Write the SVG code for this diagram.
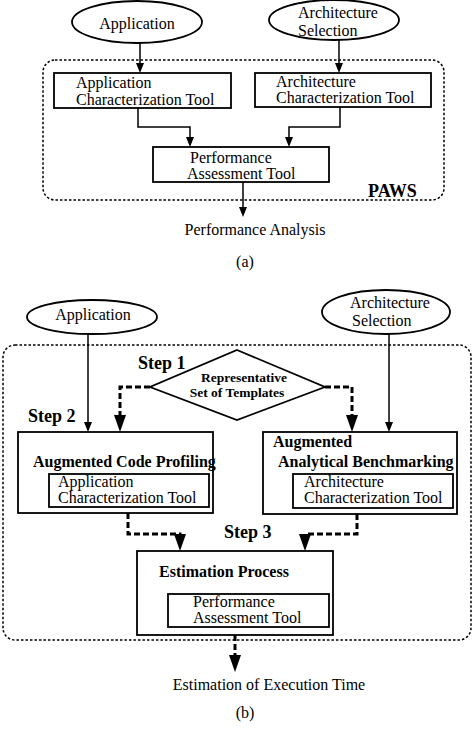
<svg xmlns="http://www.w3.org/2000/svg" width="474" height="731" viewBox="0 0 474 731">
<style>
text{font-family:"Liberation Serif","Times New Roman",serif;font-size:16px;fill:#000}
.b{font-weight:bold}
.s{font-weight:bold;font-size:18px}
.d{font-weight:bold;font-size:13.5px}
.m{text-anchor:middle}
.n{fill:#fff;stroke:#000;stroke-width:1.8}
.g{fill:none;stroke:#000;stroke-width:1.5;stroke-dasharray:2.5 2}
.t{fill:none;stroke:#000;stroke-width:1.5}
.k{fill:none;stroke:#000;stroke-width:3;stroke-dasharray:6 3}
</style>
<defs>
<marker id="a" markerUnits="userSpaceOnUse" markerWidth="10" markerHeight="8" refX="7" refY="4" orient="auto"><path d="M0,0 L10,4 L0,8 z" fill="#000" stroke="none"/></marker>
<marker id="b" markerUnits="userSpaceOnUse" markerWidth="17" markerHeight="12" refX="7" refY="6" orient="auto"><path d="M0,0 L17,6 L0,12 z" fill="#000" stroke="none"/></marker>
</defs>

<!-- (a) -->
<rect id="paws" class="g" x="43" y="60" width="401" height="140" rx="12"/>
<text class="s" x="368" y="197">PAWS</text>
<g id="connectors-a">
<path class="t" d="M140,43 V70" marker-end="url(#a)"/>
<path class="t" d="M339,40 V70" marker-end="url(#a)"/>
<path class="t" d="M138,108 V127 H190 V144" marker-end="url(#a)"/>
<path class="t" d="M340,107 V127 H289 V144" marker-end="url(#a)"/>
<path class="t" d="M243,182 V214" marker-end="url(#a)"/>
</g>
<g id="a-app"><ellipse class="n" cx="137" cy="22" rx="65" ry="21"/><text class="m" x="137" y="29">Application</text></g>
<g id="a-arch"><ellipse class="n" cx="334" cy="20" rx="65" ry="20"/><text x="298" y="18">Architecture</text><text x="298" y="36">Selection</text></g>
<g id="a-actool"><rect class="n" x="54" y="73" width="177" height="35"/><text x="76" y="88">Application</text><text x="76" y="105">Characterization Tool</text></g>
<g id="a-archtool"><rect class="n" x="255" y="73" width="176" height="34"/><text x="276" y="87">Architecture</text><text x="276" y="103">Characterization Tool</text></g>
<g id="a-perf"><rect class="n" x="153" y="147" width="176" height="35"/><text x="190" y="163">Performance</text><text x="187" y="179">Assessment Tool</text></g>
<text class="m" x="255" y="235">Performance Analysis</text>
<text class="m" x="245" y="267">(a)</text>

<!-- (b) -->
<rect id="frame-b" class="g" x="3" y="345" width="468" height="295" rx="12"/>
<g id="connectors-b">
<path class="t" d="M88,334 V429" marker-end="url(#a)"/>
<path class="t" d="M389,334 V429" marker-end="url(#a)"/>
<path class="k" d="M150,387 H120 V422" marker-end="url(#b)"/>
<path class="k" d="M325,387 H352 V422" marker-end="url(#b)"/>
<path class="k" d="M128,513 V534 H180 V541" marker-end="url(#b)"/>
<path class="k" d="M357,514 V534 H305 V541" marker-end="url(#b)"/>
<path class="k" d="M235,635 V662" marker-end="url(#b)"/>
</g>
<g id="b-app"><ellipse class="n" cx="92" cy="317" rx="65" ry="17"/><text class="m" x="93" y="320">Application</text></g>
<g id="b-arch"><ellipse class="n" cx="386" cy="312" rx="64" ry="22"/><text x="350" y="308">Architecture</text><text x="352" y="326">Selection</text></g>
<g id="b-templates"><polygon class="n" points="237,350 325,387 237,420 150,387"/><text class="d m" x="244" y="382">Representative</text><text class="d m" x="237" y="397">Set of Templates</text></g>
<text class="s" x="138" y="369">Step 1</text>
<text class="s" x="28" y="422">Step 2</text>
<text class="s" x="224" y="538">Step 3</text>
<g id="b-profiling"><rect class="n" x="18" y="432" width="195" height="81"/><text class="b" x="33" y="467">Augmented Code Profiling</text>
<rect class="n" x="49" y="474" width="160" height="33"/><text x="58" y="487">Application</text><text x="58" y="503">Characterization Tool</text></g>
<g id="b-bench"><rect class="n" x="263" y="432" width="194" height="82"/><text class="b" x="273" y="447">Augmented</text><text class="b" x="278" y="467">Analytical Benchmarking</text>
<rect class="n" x="293" y="474" width="160" height="34"/><text x="304" y="487">Architecture</text><text x="304" y="503">Characterization Tool</text></g>
<g id="b-estimation"><rect class="n" x="137" y="551" width="196" height="84"/><text class="b" x="159" y="577">Estimation Process</text>
<rect class="n" x="168" y="594" width="161" height="33"/><text x="193" y="607">Performance</text><text x="193" y="623">Assessment Tool</text></g>
<text class="m" x="269" y="690">Estimation of Execution Time</text>
<text class="m" x="245" y="718">(b)</text>
</svg>
